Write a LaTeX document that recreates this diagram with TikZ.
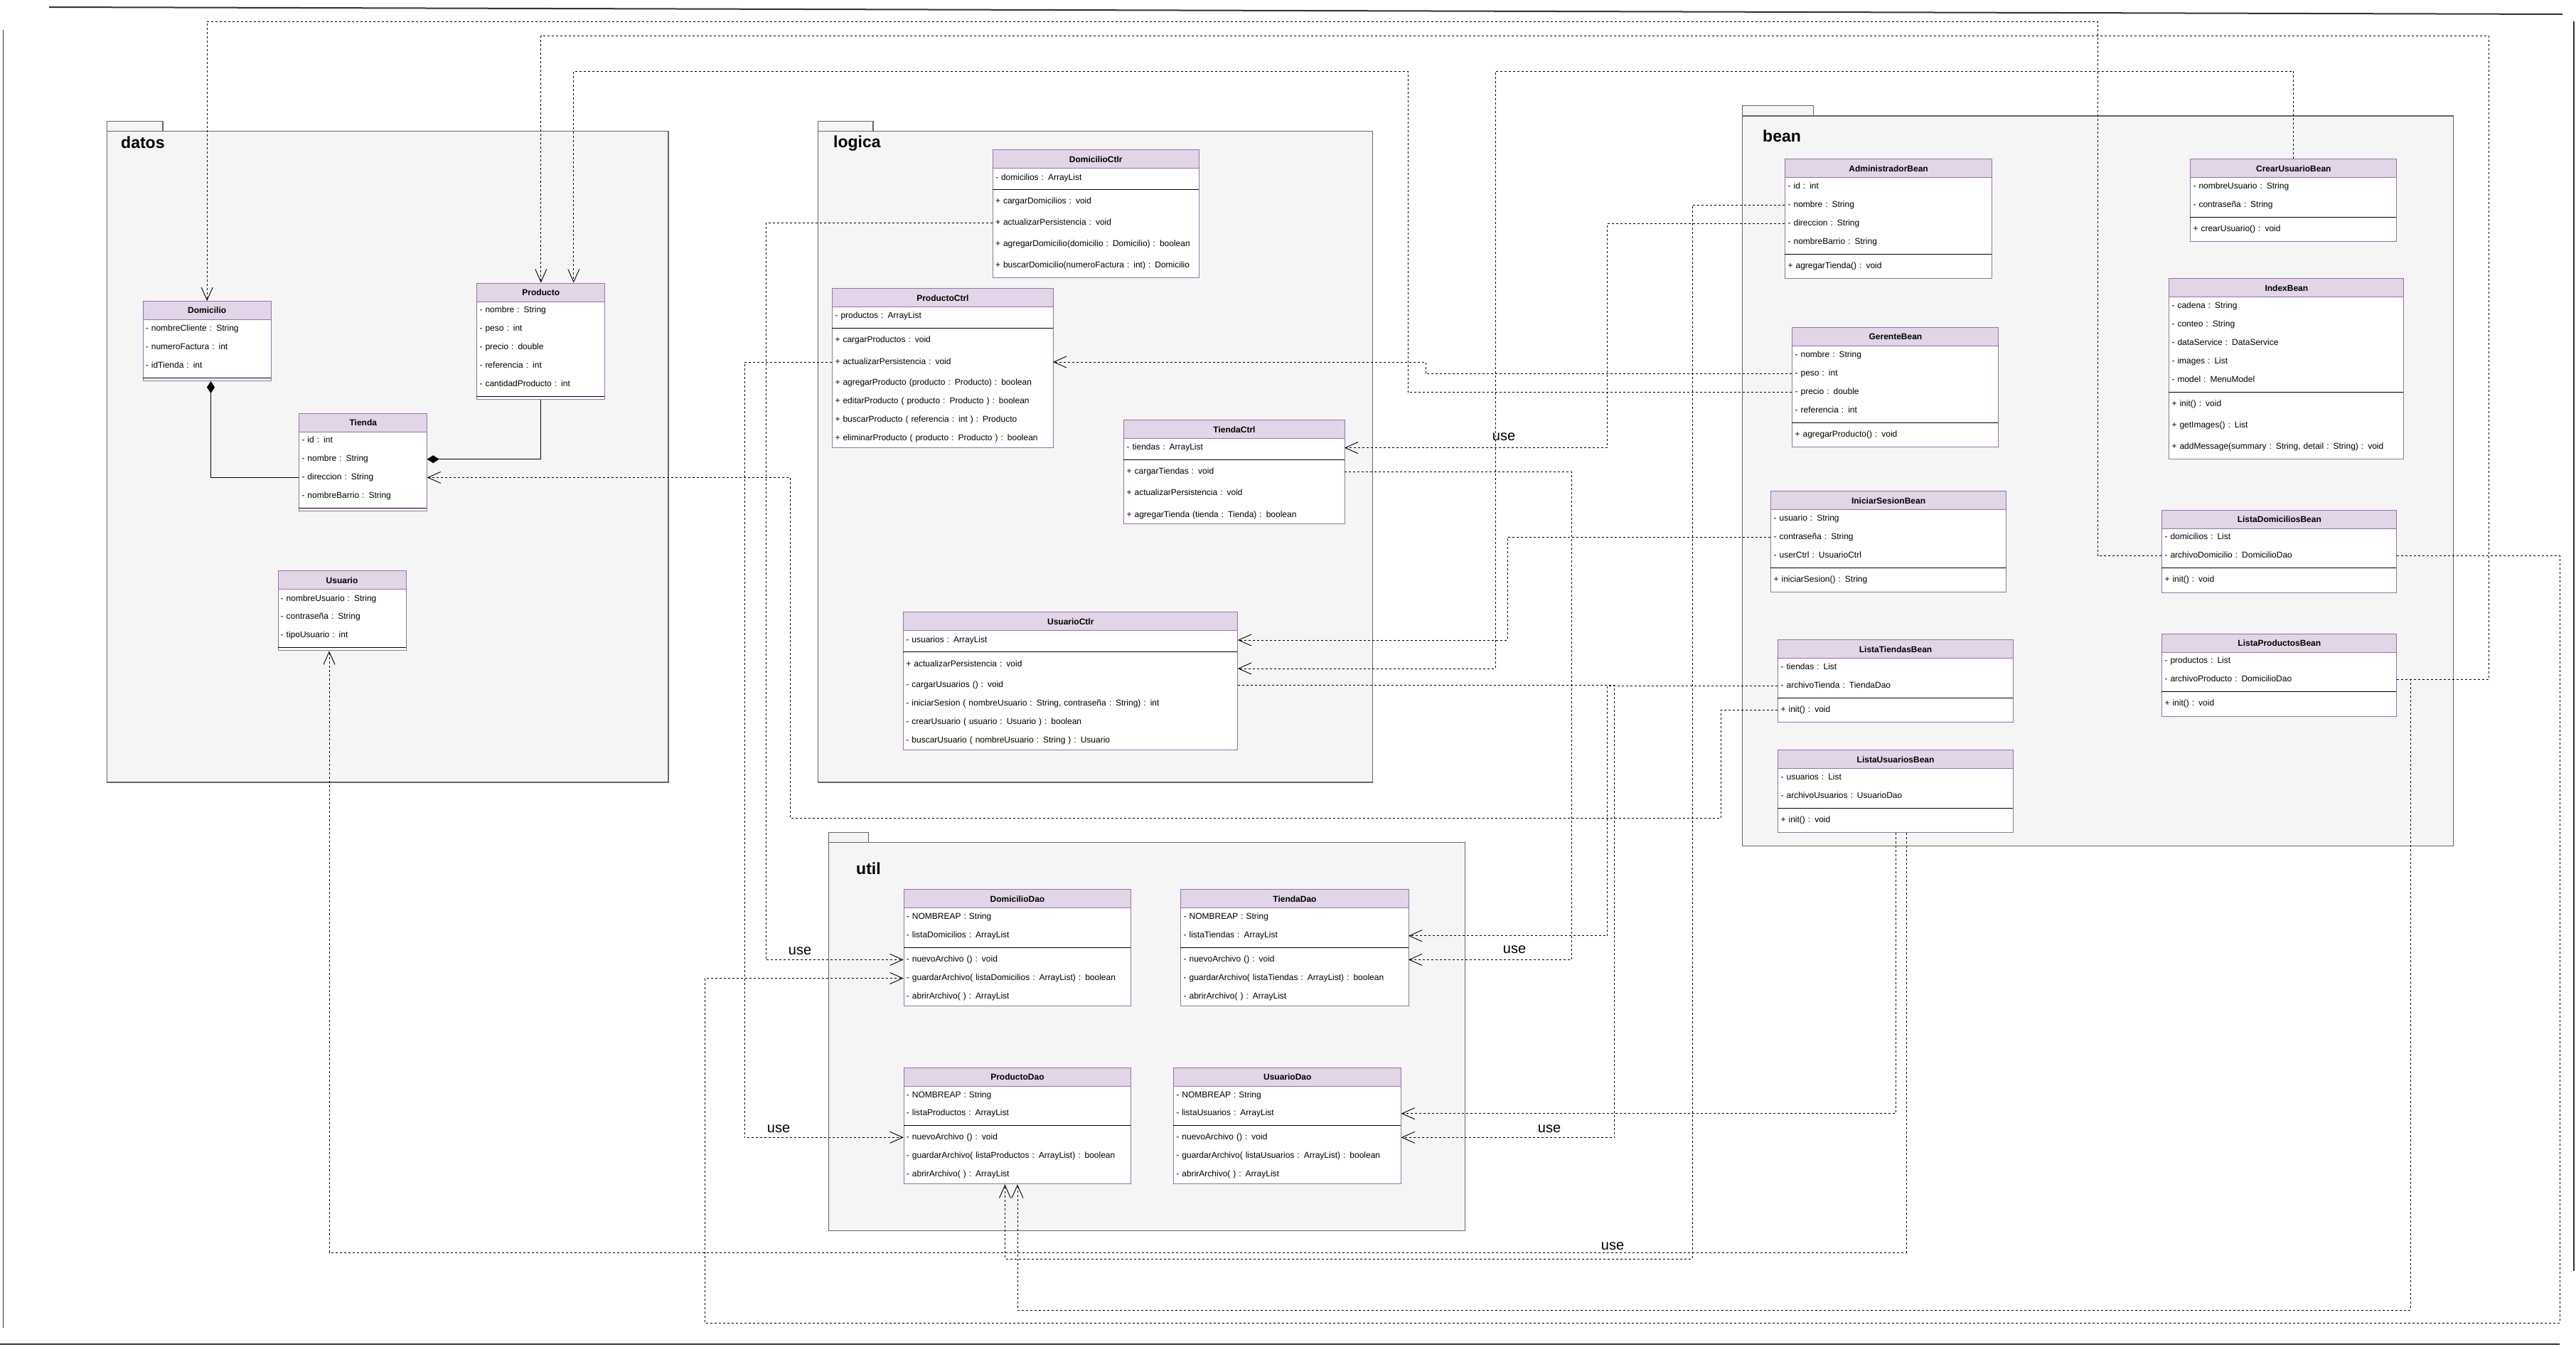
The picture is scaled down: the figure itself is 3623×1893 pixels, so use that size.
\documentclass[tikz,border=0pt]{standalone}
\usepackage{fontspec}
\setmainfont{Liberation Sans}
\usetikzlibrary{arrows.meta}

\definecolor{lila}{HTML}{9673A6}
\definecolor{lilaclaro}{HTML}{E1D5E7}
\definecolor{paquete}{HTML}{F5F5F5}
\definecolor{bordepaq}{HTML}{666666}

\tikzset{
	cabeza/.style={draw=lila, fill=lilaclaro, line width=1pt, anchor=north west, inner sep=0pt, minimum height=26pt, font=\fontsize{12}{14}\selectfont\bfseries},
	cuerpo/.style={draw=lila, fill=white, line width=1pt, anchor=north west, inner sep=0pt},
	fila/.style={anchor=west, inner xsep=4pt, inner ysep=0pt, align=left, text height=9pt, text depth=3pt, font=\fontsize{12}{14}\selectfont},
	separa/.style={line width=1pt, black},
	paq/.style={draw=bordepaq, fill=paquete, line width=1.2pt},
	nompaq/.style={anchor=base west, inner sep=0pt, font=\fontsize{23}{26}\selectfont\bfseries},
	usa/.style={line width=0.9pt, dash pattern=on 3pt off 3pt, -{Straight Barb[length=18pt,width=16pt]}},
	comp/.style={line width=1.2pt, {Diamond[length=17pt,width=11pt]}-},
	etiq/.style={anchor=base, inner sep=0pt, font=\fontsize{20}{22}\selectfont},
	marco/.style={line width=2pt, black!80}
}

% clase: nombre, x, y, ancho, y inferior, titulo
\newcommand{\clase}[6]{%
	\pgfmathsetmacro{\clx}{#2}%
	\pgfmathsetmacro{\clw}{#4}%
	\pgfmathsetmacro{\cltw}{#4-8}%
	\pgfmathsetmacro{\clalto}{#5-#3}%
	\node[cuerpo, minimum width=\clw pt, minimum height=\clalto pt] (#1) at (#2,#3) {};
	\node[cabeza, minimum width=\clw pt] (#1-t) at (#2,#3) {#6};
}
\newcommand{\fila}[3]{\node[fila, text width=\cltw pt] (#1) at (\clx,#2) {#3};}
\newcommand{\separador}[1]{\draw[separa] (\clx,#1) -- ++(\clw,0);}

\begin{document}
\begin{tikzpicture}[x=1pt,y=-1pt]
	\useasboundingbox (0,0) rectangle (3623,1893);
	
	\draw[marco] (69,10) -- (3604,20);
	\draw[marco, line width=1pt] (4,42) -- (4,1867);
	\draw[marco] (3620,30) -- (3620,1787);
	\draw[marco] (0,1890) -- (3600,1890);
	
	% paquetes
	\draw[paq] (150.5,170.7) rectangle (229,184.3);
	\draw[paq] (150.5,184.3) rectangle (940,1100);
	\node[nompaq] (n-datos) at (170,208) {datos};
	
	\draw[paq] (1150.5,170.7) rectangle (1228,184.3);
	\draw[paq] (1150.5,184.3) rectangle (1930.8,1100);
	\node[nompaq] (n-logica) at (1172,207) {logica};
	
	\draw[paq] (1165.2,1170.3) rectangle (1221.5,1184.1);
	\draw[paq] (1165.2,1184.1) rectangle (2060.3,1730.2);
	\node[nompaq] (n-util) at (1204,1229) {util};
	
	\draw[paq] (2450.7,148.7) rectangle (2550.4,162.9);
	\draw[paq] (2450.7,162.9) rectangle (3450.7,1189.6);
	\node[nompaq] (n-bean) at (2479,199) {bean};
	
	% datos
	\clase{dom}{200.7}{423.2}{180}{535}{Domicilio}
	\fila{dom-a1}{462.3}{- nombreCliente : String}
	\fila{dom-a2}{488.6}{- numeroFactura : int}
	\fila{dom-a3}{514.6}{- idTienda : int}
	\separador{531}
	
	\clase{pro}{670.3}{397.5}{180}{561.4}{Producto}
	\fila{pro-a1}{436.8}{- nombre : String}
	\fila{pro-a2}{462.9}{- peso : int}
	\fila{pro-a3}{488.6}{- precio : double}
	\fila{pro-a4}{514.6}{- referencia : int}
	\fila{pro-a5}{540.7}{- cantidadProducto : int}
	\separador{557}
	
	\clase{tie}{420.3}{580.7}{180}{718.3}{Tienda}
	\fila{tie-a1}{619.6}{- id : int}
	\fila{tie-a2}{645.7}{- nombre : String}
	\fila{tie-a3}{671.4}{- direccion : String}
	\fila{tie-a4}{697.5}{- nombreBarrio : String}
	\separador{714}
	
	\clase{usu}{390.5}{802.3}{180}{914.3}{Usuario}
	\fila{usu-a1}{842}{- nombreUsuario : String}
	\fila{usu-a2}{867.7}{- contraseña : String}
	\fila{usu-a3}{893.7}{- tipoUsuario : int}
	\separador{910.3}
	
	% logica
	\clase{dc}{1395.8}{210.4}{290}{390.4}{DomicilioCtlr}
	\fila{dc-a1}{250.5}{- domicilios : ArrayList}
	\separador{266.4}
	\fila{dc-m1}{283.6}{+ cargarDomicilios : void}
	\fila{dc-m2}{313.6}{+ actualizarPersistencia : void}
	\fila{dc-m3}{343.6}{+ agregarDomicilio(domicilio : Domicilio) : boolean}
	\fila{dc-m4}{373.6}{+ buscarDomicilio(numeroFactura : int) : Domicilio}
	
	\clase{pc}{1170.3}{405.4}{310.2}{629}{ProductoCtrl}
	\fila{pc-a1}{444.6}{- productos : ArrayList}
	\separador{461.8}
	\fila{pc-m1}{478.6}{+ cargarProductos : void}
	\fila{pc-m2}{509}{+ actualizarPersistencia : void}
	\fila{pc-m3}{538.6}{+ agregarProducto (producto : Producto) : boolean}
	\fila{pc-m4}{564.6}{+ editarProducto ( producto : Producto ) : boolean}
	\fila{pc-m5}{590.7}{+ buscarProducto ( referencia : int ) : Producto}
	\fila{pc-m6}{616.8}{+ eliminarProducto ( producto : Producto ) : boolean}
	
	\clase{tc}{1580.4}{590.4}{310.1}{736}{TiendaCtrl}
	\fila{tc-a1}{629.6}{- tiendas : ArrayList}
	\separador{646.4}
	\fila{tc-m1}{663.6}{+ cargarTiendas : void}
	\fila{tc-m2}{693.6}{+ actualizarPersistencia : void}
	\fila{tc-m3}{724}{+ agregarTienda (tienda : Tienda) : boolean}
	
	\clase{uc}{1270.2}{860.3}{470.2}{1054}{UsuarioCtlr}
	\fila{uc-a1}{900}{- usuarios : ArrayList}
	\separador{916}
	\fila{uc-m1}{934}{+ actualizarPersistencia : void}
	\fila{uc-m2}{963.7}{- cargarUsuarios () : void}
	\fila{uc-m3}{989.3}{- iniciarSesion ( nombreUsuario : String, contraseña : String) : int}
	\fila{uc-m4}{1015.3}{- crearUsuario ( usuario : Usuario ) : boolean}
	\fila{uc-m5}{1041.7}{- buscarUsuario ( nombreUsuario : String ) : Usuario}
	
	% util
	\clase{dd}{1270.7}{1250.3}{319.5}{1414.1}{DomicilioDao}
	\fila{dd-a1}{1289.7}{- NOMBREAP : String}
	\fila{dd-a2}{1315.8}{- listaDomicilios : ArrayList}
	\separador{1332.6}
	\fila{dd-m1}{1349.4}{- nuevoArchivo () : void}
	\fila{dd-m2}{1375.5}{- guardarArchivo( listaDomicilios : ArrayList) : boolean}
	\fila{dd-m3}{1401.5}{- abrirArchivo( ) : ArrayList}
	
	\clase{td}{1660.4}{1250.3}{320.1}{1414.1}{TiendaDao}
	\fila{td-a1}{1289.7}{- NOMBREAP : String}
	\fila{td-a2}{1315.8}{- listaTiendas : ArrayList}
	\separador{1332.6}
	\fila{td-m1}{1349.4}{- nuevoArchivo () : void}
	\fila{td-m2}{1375.5}{- guardarArchivo( listaTiendas : ArrayList) : boolean}
	\fila{td-m3}{1401.5}{- abrirArchivo( ) : ArrayList}
	
	\clase{pd}{1270.7}{1500.6}{319.5}{1664.4}{ProductoDao}
	\fila{pd-a1}{1540}{- NOMBREAP : String}
	\fila{pd-a2}{1565.7}{- listaProductos : ArrayList}
	\separador{1582.5}
	\fila{pd-m1}{1599.3}{- nuevoArchivo () : void}
	\fila{pd-m2}{1625.7}{- guardarArchivo( listaProductos : ArrayList) : boolean}
	\fila{pd-m3}{1651.8}{- abrirArchivo( ) : ArrayList}
	
	\clase{ud}{1650.2}{1500.6}{320.1}{1664.4}{UsuarioDao}
	\fila{ud-a1}{1540}{- NOMBREAP : String}
	\fila{ud-a2}{1565.7}{- listaUsuarios : ArrayList}
	\separador{1582.5}
	\fila{ud-m1}{1599.3}{- nuevoArchivo () : void}
	\fila{ud-m2}{1625.7}{- guardarArchivo( listaUsuarios : ArrayList) : boolean}
	\fila{ud-m3}{1651.8}{- abrirArchivo( ) : ArrayList}
	
	% bean
	\clase{adm}{2510.4}{223.4}{290.3}{391.1}{AdministradorBean}
	\fila{adm-a1}{262.6}{- id : int}
	\fila{adm-a2}{288.7}{- nombre : String}
	\fila{adm-a3}{314.8}{- direccion : String}
	\fila{adm-a4}{340.9}{- nombreBarrio : String}
	\separador{357.5}
	\fila{adm-m1}{374.5}{+ agregarTienda() : void}
	
	\clase{ger}{2520.4}{460.3}{290}{628.3}{GerenteBean}
	\fila{ger-a1}{499.8}{- nombre : String}
	\fila{ger-a2}{525.5}{- peso : int}
	\fila{ger-a3}{551.6}{- precio : double}
	\fila{ger-a4}{577.7}{- referencia : int}
	\separador{594.7}
	\fila{ger-m1}{611.7}{+ agregarProducto() : void}
	
	\clase{isb}{2490.4}{690.3}{330.3}{832.2}{IniciarSesionBean}
	\fila{isb-a1}{729.9}{- usuario : String}
	\fila{isb-a2}{755.7}{- contraseña : String}
	\fila{isb-a3}{781.6}{- userCtrl : UsuarioCtrl}
	\separador{798.8}
	\fila{isb-m1}{815.6}{+ iniciarSesion() : String}
	
	\clase{ltb}{2500.4}{899.3}{330.3}{1015}{ListaTiendasBean}
	\fila{ltb-a1}{938.6}{- tiendas : List}
	\fila{ltb-a2}{964.4}{- archivoTienda : TiendaDao}
	\separador{981.3}
	\fila{ltb-m1}{998.5}{+ init() : void}
	
	\clase{lub}{2500.4}{1054.3}{330.3}{1170}{ListaUsuariosBean}
	\fila{lub-a1}{1093.5}{- usuarios : List}
	\fila{lub-a2}{1119.4}{- archivoUsuarios : UsuarioDao}
	\separador{1136.6}
	\fila{lub-m1}{1153.5}{+ init() : void}
	
	\clase{cub}{3080.3}{223.4}{290}{338.8}{CrearUsuarioBean}
	\fila{cub-a1}{262.4}{- nombreUsuario : String}
	\fila{cub-a2}{288.4}{- contraseña : String}
	\separador{305.2}
	\fila{cub-m1}{322.5}{+ crearUsuario() : void}
	
	\clase{ixb}{3050.3}{391.4}{330}{645}{IndexBean}
	\fila{ixb-a1}{430.4}{- cadena : String}
	\fila{ixb-a2}{456.4}{- conteo : String}
	\fila{ixb-a3}{482.4}{- dataService : DataService}
	\fila{ixb-a4}{508.5}{- images : List}
	\fila{ixb-a5}{534.5}{- model : MenuModel}
	\separador{551.3}
	\fila{ixb-m1}{568.6}{+ init() : void}
	\fila{ixb-m2}{598.4}{+ getImages() : List}
	\fila{ixb-m3}{628.8}{+ addMessage(summary : String, detail : String) : void}
	
	\clase{ldb}{3040.3}{716.6}{330}{832.6}{ListaDomiciliosBean}
	\fila{ldb-a1}{755.6}{- domicilios : List}
	\fila{ldb-a2}{781.6}{- archivoDomicilio : DomicilioDao}
	\separador{798.4}
	\fila{ldb-m1}{815.8}{+ init() : void}
	
	\clase{lpb}{3040.3}{890.6}{330}{1006.5}{ListaProductosBean}
	\fila{lpb-a1}{929.6}{- productos : List}
	\fila{lpb-a2}{955.6}{- archivoProducto : DomicilioDao}
	\separador{972.4}
	\fila{lpb-m1}{989.8}{+ init() : void}
	
	% composiciones
	\draw[comp] ([xshift=5.3pt]dom.south) |- (tie-a3.west);
	\draw[comp] (tie-a2.east) -| (pro.south);
	
	% dependencias
	\draw[usa] (ldb-a2.west) -| (2950,30) -| (dom-t.north);
	\draw[usa] (lpb-a2.east) -| (3500,50) -| (pro-t.north);
	\draw[usa] (ger-a3.west) -| (1980,100) -| ([xshift=46pt]pro-t.north);
	\draw[usa] (cub-t.north) |- (2103,100) |- ([yshift=-6pt]uc-m1.east);
	\draw[usa] (isb-a2.west) -- ++(-370.4,0) |- (uc-a1.east);
	\draw[usa] (adm-a3.west) -- ++(-249.7,0) |- (tc-a1.east);
	\draw[usa] (adm-a2.west) -| (2380,1770) -| ([xshift=-17.5pt]pd.south);
	\draw[usa] (lpb-a2.east) -| (3390,1842) -| (pd.south);
	\draw[usa] (ldb-a2.east) -| (3600,1860) -- (991,1860) |- (dd-m2.west);
	\draw[usa] (dc-m2.west) -- ++(-318.8,0) |- (dd-m1.west);
	\draw[usa] (pc-m2.west) -- ++(-123.3,0) |- (pd-m1.west);
	\draw[usa] (ger-a2.west) -- ++(-515,0) |- (pc-m2.east);
	\draw[usa] (tc-m1.east) -- ++(319.5,0) |- (td-m1.east);
	\draw[usa] (ltb-a2.west) -- ++(-239.7,0) |- (td-a2.east);
	\draw[usa] (uc-m2.east) -- ++(530.1,0) |- (ud-m1.east);
	\draw[usa] (ltb-m1.west) -| (2420.5,1150) -- (1111,1150) |- (tie-a3.east);
	\draw[usa] (lub.south) |- (ud-a2.east);
	\draw[usa] ([xshift=15pt]lub.south) -- ++(0,590) -| ([xshift=-18pt]usu.south);
	
	\node[etiq] (use1) at (2115,619) {use};
	\node[etiq] (use2) at (2130,1340) {use};
	\node[etiq] (use3) at (2179,1592) {use};
	\node[etiq] (use4) at (1125,1342) {use};
	\node[etiq] (use5) at (1095,1592) {use};
	\node[etiq] (use6) at (2268,1757) {use};
\end{tikzpicture}
\end{document}
